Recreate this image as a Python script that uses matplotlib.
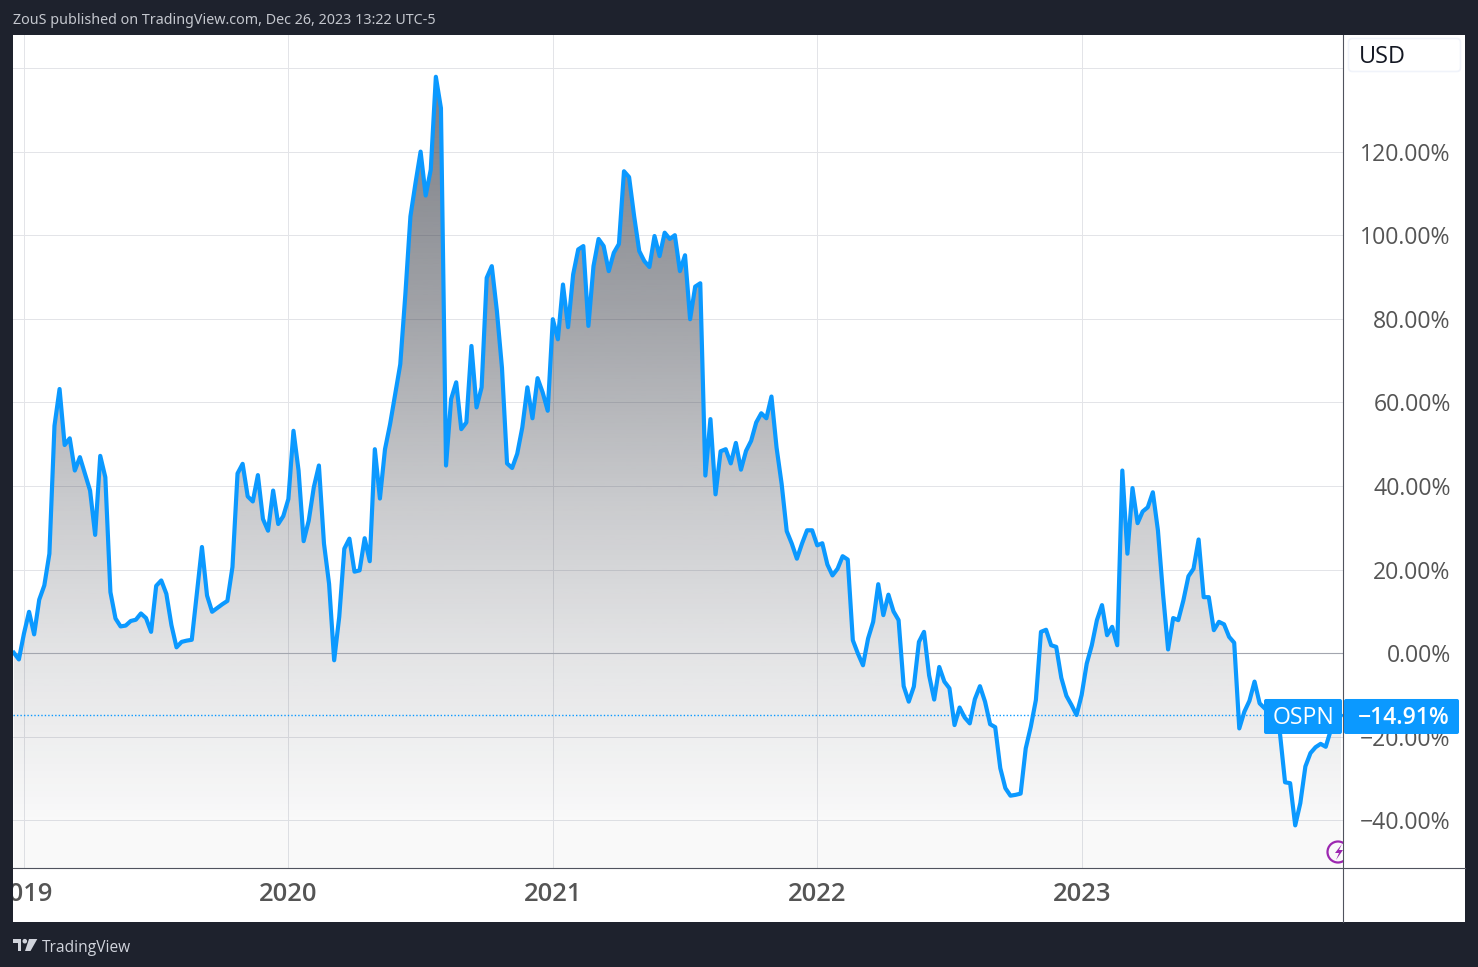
import matplotlib
matplotlib.use("Agg")
import matplotlib.pyplot as plt
import numpy as np
from matplotlib.patches import Circle, FancyBboxPatch, Polygon, Rectangle

# weekly performance of OSPN in percent
pct_2019 = [0.1, -1.5, 4.7, 9.9, 4.5, 12.8, 16.2, 23.8, 54.4, 63.2, 49.8, 51.4, 43.7, 46.9, 42.9, 38.9, 28.3,
            47.2, 42.1, 14.6, 8.3, 6.4, 6.6, 7.7, 8.0, 9.5, 8.4, 5.1, 16.1, 17.4, 14.2, 6.7, 1.4, 2.7, 3.0, 3.2,
            14.2, 25.4, 13.8, 9.9, 10.8, 11.7, 12.5, 20.6, 43.0, 45.3, 37.5, 36.3, 42.6, 32.1, 29.3, 38.9, 30.9,
            32.8, 36.9]
pct_2020 = [53.2, 43.7, 26.8, 31.7, 39.7, 44.9, 26.2, 16.6, -1.7, 8.7, 25.0, 27.4, 19.5, 19.8, 27.5, 22.0,
            48.8, 37.0, 48.8, 54.8, 62.0, 69.1, 85.8, 104.5, 112.5, 120.0, 109.5, 115.7, 137.9, 130.4, 44.9,
            60.8, 64.8, 53.6, 55.2, 73.5, 58.8, 63.6, 89.8, 92.6, 81.9, 68.3, 45.4, 44.3, 47.7, 54.0, 63.6,
            56.2, 65.8, 62.4, 58.0, 79.9, 75.1]
pct_2021 = [88.2, 78.0, 90.6, 96.6, 97.4, 78.3, 92.6, 99.1, 97.4, 91.4, 95.8, 97.9, 115.3, 113.9, 104.5, 96.2,
            93.8, 92.4, 99.8, 95.0, 100.6, 99.1, 100.0, 91.4, 95.2, 79.9, 87.7, 88.5, 42.5, 56.0, 38.0, 48.3,
            48.8, 45.4, 50.3, 43.9, 48.4, 50.8, 55.2, 57.4, 56.2, 61.4, 49.2, 40.5, 29.2, 26.2, 22.6, 26.2,
            29.4, 29.4, 25.8, 26.3]
pct_2022 = [21.2, 18.6, 20.2, 23.2, 22.4, 3.1, -0.1, -2.9, 3.5, 7.5, 16.5, 9.1, 14.0, 10.0, 7.9, -7.9, -11.6,
            -8.0, 2.7, 5.1, -5.3, -11.1, -3.3, -6.8, -8.4, -17.2, -13.0, -15.4, -16.8, -11.0, -7.9, -11.6,
            -17.0, -17.7, -27.5, -32.3, -34.1, -33.9, -33.6, -22.8, -17.6, -11.2, 5.1, 5.6, 1.9, 1.5, -5.9,
            -10.2, -12.4, -14.8, -10.0, -2.5]
pct_2023 = [1.9, 7.9, 11.5, 4.3, 6.3, 1.9, 43.7, 23.8, 39.5, 31.1, 33.9, 34.9, 38.5, 29.4, 14.2, 0.9, 8.4, 7.9,
            12.6, 18.4, 20.2, 27.2, 13.4, 13.4, 5.5, 7.5, 6.9, 3.9, 2.5, -18.0, -14.0, -11.4, -6.8, -12.0,
            -13.2, -14.5, -15.0, -19.2, -30.9, -31.1, -41.2, -35.9, -27.1, -23.9, -22.5, -21.7, -22.4, -18.4,
            -16.5, -14.91]
pct = pct_2019 + pct_2020 + pct_2021 + pct_2022 + pct_2023

y_ticks = [-40, -20, 0, 20, 40, 60, 80, 100, 120]
grid_y = y_ticks + [140]
years = [2019, 2020, 2021, 2022, 2023]
year_bars = [2, 54, 106, 158, 210]  # weekly bar where each year label sits
symbol = "OSPN"
currency = "USD"

W, H = 1478, 967
BG = "#1e222d"
LINE = "#0b99ff"
GRID = "#e3e4e8"
AXIS = "#50535e"
TXT = "#555555"
FONT = ["Open Sans", "DejaVu Sans"]

plt.rcParams["font.family"] = FONT


def px_axes(fig, x0, y0, x1, y1, **kw):
    # axes from pixel box, y measured from the top
    return fig.add_axes([x0 / W, 1 - y1 / H, (x1 - x0) / W, (y1 - y0) / H], **kw)


def pct_label(v):
    return f"{v:.2f}%".replace("-", "\u2212")


# time scale counts bars, about 5.085 px per week like the source chart
x = np.arange(len(pct))
bar_px = 5.085
x_lim = (-0.157, -0.157 + 1330 / bar_px)
y_lim = (-51.4, 147.9)
y_lim_scale = (-64.3, 147.9)

fig = plt.figure(figsize=(W / 100, H / 100), dpi=100, facecolor=BG)
ax = px_axes(fig, 13, 35, 1343, 868, facecolor="white")
ax_right = px_axes(fig, 1343, 35, 1465, 922, facecolor="white")
ax_bottom = px_axes(fig, 13, 868, 1343, 922, facecolor="white")
over = px_axes(fig, 0, 0, W, H, zorder=10)
over.set_xlim(0, W)
over.set_ylim(H, 0)
over.axis("off")

# gradient under the line, clipped to the area below it
grad_y = np.linspace(y_lim[1], y_lim[0], 300)
grad_alpha = np.interp(grad_y, [-40, 0, 36, 84, 132], [0.03, 0.13, 0.25, 0.45, 0.6])
rgba = np.zeros((300, 1, 4))
rgba[..., :3] = matplotlib.colors.to_rgb("#2a2e39")
rgba[..., 3] = grad_alpha[:, None]
im = ax.imshow(rgba, extent=[x_lim[0], x_lim[1], y_lim[0], y_lim[1]], aspect="auto", zorder=1, interpolation="bilinear")
area = ax.fill_between(x, pct, y_lim[0], facecolor="none", edgecolor="none")
im.set_clip_path(area.get_paths()[0], transform=ax.transData)

ax.set_yticks(grid_y)
ax.set_xticks(year_bars)
ax.grid(True, color=GRID, lw=0.72, zorder=0.5)
ax.set_axisbelow(True)
ax.tick_params(length=0, labelleft=False, labelbottom=False)
ax.axhline(0, color="#a3a6af", lw=0.8, zorder=2)
ax.axhline(pct[-1], color=LINE, lw=1.0, ls=(0, (1, 1.5)), zorder=2.5)
ax.plot(x, pct, color=LINE, lw=3.0, solid_joinstyle="round", zorder=3)
ax.set_xlim(x_lim)
ax.set_ylim(y_lim)

# price scale
ax_right.set_ylim(y_lim_scale)
ax_right.set_xticks([])
ax_right.set_yticks(y_ticks, [pct_label(v) for v in y_ticks])
ax_right.tick_params(axis="y", length=0, pad=-77.5, labelsize=16.6, labelcolor=TXT)

# time scale
ax_bottom.set_xlim(x_lim)
ax_bottom.set_ylim(0, 1)
ax_bottom.set_yticks([])
ax_bottom.set_xticks(year_bars, [str(y) for y in years])
ax_bottom.tick_params(axis="x", length=0, direction="in", pad=-29, labelsize=18.4, labelcolor=TXT)
for lab in ax_bottom.get_xticklabels():
    lab.set_fontweight("semibold")
    lab.set_clip_on(True)
    lab.set_clip_box(ax_bottom.bbox)

for a in (ax, ax_right, ax_bottom):
    for s in a.spines.values():
        s.set_visible(False)

# frame lines
over.plot([13, 1465], [868, 868], color=AXIS, lw=0.8)
over.plot([1343, 1343], [35, 922], color=AXIS, lw=0.8)

# last price tags
fig.canvas.draw()
y_last = H - ax.transData.transform((x[0], pct[-1]))[1]
for x0, x1 in ((1264, 1342), (1344, 1459)):
    over.add_patch(FancyBboxPatch((x0, y_last - 16.5), x1 - x0, 35, boxstyle="round,pad=0,rounding_size=2",
                                  fc=LINE, ec="none", zorder=5))
over.text(1303, y_last + 3, symbol, color="white", fontsize=16.6, ha="center", va="center", zorder=6)
over.text(1450, y_last + 3, pct_label(pct[-1]), color="white", fontsize=16.6,
          fontweight="semibold", ha="right", va="center", zorder=6)

# currency button
over.add_patch(FancyBboxPatch((1348.5, 38.5), 112, 33, boxstyle="round,pad=0,rounding_size=4",
                              fc="white", ec="#f0f3fa", lw=1.2))
over.text(1359, 57, currency, color="#131722", fontsize=16.8, ha="left", va="center")

# lightning badge, cut off by the price scale
clip = Rectangle((1320, 830), 23, 38, transform=over.transData)
badge = Circle((1338, 852), 10.5, fc="none", ec="#9c27b0", lw=1.6)
over.add_patch(badge)
badge.set_clip_path(clip)
bolt = Polygon([(1342, 844), (1335, 853), (1339, 853), (1336, 860), (1343, 850), (1339, 850)], fc="#9c27b0", ec="none")
over.add_patch(bolt)
bolt.set_clip_path(clip)

# header and footer
over.text(13, 21, "ZouS published on TradingView.com, Dec 26, 2023 13:22 UTC-5", color="#c4c7ce", fontsize=10.3,
          family=["Noto Sans", "DejaVu Sans"], ha="left", va="center")
over.text(42, 948, "TradingView", color="#d1d4dc", fontsize=11.2, ha="left", va="center")
logo = "#d1d4dc"
over.add_patch(Polygon([(13.3, 939), (21, 939), (21, 951), (17.7, 951), (17.7, 943.3), (13.3, 943.3)], fc=logo, ec="none"))
over.add_patch(Circle((24.8, 941.2), 2.3, fc=logo, ec="none"))
over.add_patch(Polygon([(29, 939), (37.3, 939), (30.5, 951), (25, 951)], fc=logo, ec="none"))

fig.savefig("out.png", dpi=100, facecolor=BG)
